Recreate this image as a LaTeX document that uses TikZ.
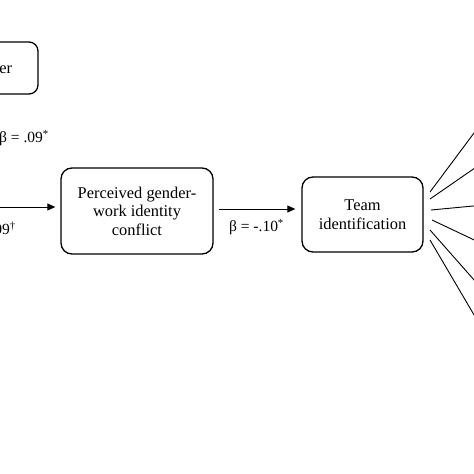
\documentclass[tikz,border=0pt]{standalone}
\usepackage{fontspec}
\setmainfont{Liberation Serif}
\usetikzlibrary{arrows.meta}
\begin{document}
\begin{tikzpicture}[x=1pt,y=-1pt,
  boxstyle/.style={draw,line width=1.3pt,rounded corners=11pt,align=center,inner sep=0pt,
    font=\fontsize{16.4}{18.5}\selectfont},
  lbl/.style={inner sep=0pt,font=\fontsize{15.5}{18}\selectfont},
  arr/.style={line width=0.9pt,-{Triangle[length=8pt,width=7pt]}},
  ray/.style={line width=0.9pt}]
\useasboundingbox (0,0) rectangle (474,474);
\node[boxstyle,minimum width=100pt,minimum height=52pt,rounded corners=9pt] (gender) at (-12,68) {Gender};
\node[boxstyle,minimum width=152pt,minimum height=86pt] (pgw) at (137,211) {Perceived gender-\\work identity\\conflict};
\node[boxstyle,minimum width=121pt,minimum height=75pt] (team) at (362.5,214.5) {Team\\identification};
\node[lbl,anchor=east] (l1) at (49,138) {β = .09\textsuperscript{*}};
\node[lbl,anchor=east] (l2) at (16,230) {β = .09\textsuperscript{†}};
\node[lbl] (l3) at (256.5,227) {β = -.10\textsuperscript{*}};
\coordinate (in) at (-20,207);
\draw[arr,shorten >=5pt] (in) -- (pgw.west |- in);
\draw[arr,shorten <=5pt,shorten >=6pt] (pgw.east |- 0,209) -- (team.west |- 0,209);
\coordinate (s1) at (430,192); \coordinate (e1) at (478.5,127);
\coordinate (s2) at (430,199); \coordinate (e2) at (478.5,165.5);
\coordinate (s3) at (431,210); \coordinate (e3) at (478.5,205.5);
\coordinate (s4) at (432,220); \coordinate (e4) at (478.5,242);
\coordinate (s5) at (430,230); \coordinate (e5) at (478.5,285);
\coordinate (s6) at (430,240); \coordinate (e6) at (478.5,322.5);
\foreach \i in {1,...,6} \draw[ray] (s\i) -- (e\i);
\end{tikzpicture}
\end{document}
